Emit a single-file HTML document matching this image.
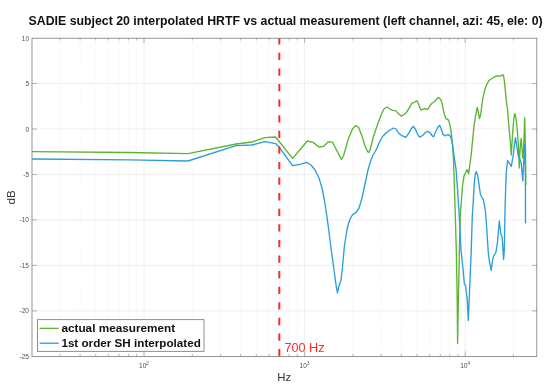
<!DOCTYPE html><html><head><meta charset="utf-8"><title>plot</title><style>html,body{margin:0;padding:0;background:#fff}svg{display:block}text{font-family:"Liberation Sans",Arial,Helvetica,sans-serif}</style></head><body>
<svg width="550" height="386" viewBox="0 0 550 386">
<rect width="550" height="386" fill="#fff"/>
<line x1="60.0" y1="38.0" x2="60.0" y2="356.4" stroke="#e6e6e6" stroke-width="0.6" stroke-dasharray="1 1.5"/>
<line x1="80.1" y1="38.0" x2="80.1" y2="356.4" stroke="#e6e6e6" stroke-width="0.6" stroke-dasharray="1 1.5"/>
<line x1="95.7" y1="38.0" x2="95.7" y2="356.4" stroke="#e6e6e6" stroke-width="0.6" stroke-dasharray="1 1.5"/>
<line x1="108.4" y1="38.0" x2="108.4" y2="356.4" stroke="#e6e6e6" stroke-width="0.6" stroke-dasharray="1 1.5"/>
<line x1="119.1" y1="38.0" x2="119.1" y2="356.4" stroke="#e6e6e6" stroke-width="0.6" stroke-dasharray="1 1.5"/>
<line x1="128.4" y1="38.0" x2="128.4" y2="356.4" stroke="#e6e6e6" stroke-width="0.6" stroke-dasharray="1 1.5"/>
<line x1="136.7" y1="38.0" x2="136.7" y2="356.4" stroke="#e6e6e6" stroke-width="0.6" stroke-dasharray="1 1.5"/>
<line x1="192.3" y1="38.0" x2="192.3" y2="356.4" stroke="#e6e6e6" stroke-width="0.6" stroke-dasharray="1 1.5"/>
<line x1="220.6" y1="38.0" x2="220.6" y2="356.4" stroke="#e6e6e6" stroke-width="0.6" stroke-dasharray="1 1.5"/>
<line x1="240.7" y1="38.0" x2="240.7" y2="356.4" stroke="#e6e6e6" stroke-width="0.6" stroke-dasharray="1 1.5"/>
<line x1="256.3" y1="38.0" x2="256.3" y2="356.4" stroke="#e6e6e6" stroke-width="0.6" stroke-dasharray="1 1.5"/>
<line x1="269.0" y1="38.0" x2="269.0" y2="356.4" stroke="#e6e6e6" stroke-width="0.6" stroke-dasharray="1 1.5"/>
<line x1="279.7" y1="38.0" x2="279.7" y2="356.4" stroke="#e6e6e6" stroke-width="0.6" stroke-dasharray="1 1.5"/>
<line x1="289.0" y1="38.0" x2="289.0" y2="356.4" stroke="#e6e6e6" stroke-width="0.6" stroke-dasharray="1 1.5"/>
<line x1="297.3" y1="38.0" x2="297.3" y2="356.4" stroke="#e6e6e6" stroke-width="0.6" stroke-dasharray="1 1.5"/>
<line x1="352.9" y1="38.0" x2="352.9" y2="356.4" stroke="#e6e6e6" stroke-width="0.6" stroke-dasharray="1 1.5"/>
<line x1="381.2" y1="38.0" x2="381.2" y2="356.4" stroke="#e6e6e6" stroke-width="0.6" stroke-dasharray="1 1.5"/>
<line x1="401.3" y1="38.0" x2="401.3" y2="356.4" stroke="#e6e6e6" stroke-width="0.6" stroke-dasharray="1 1.5"/>
<line x1="416.9" y1="38.0" x2="416.9" y2="356.4" stroke="#e6e6e6" stroke-width="0.6" stroke-dasharray="1 1.5"/>
<line x1="429.6" y1="38.0" x2="429.6" y2="356.4" stroke="#e6e6e6" stroke-width="0.6" stroke-dasharray="1 1.5"/>
<line x1="440.3" y1="38.0" x2="440.3" y2="356.4" stroke="#e6e6e6" stroke-width="0.6" stroke-dasharray="1 1.5"/>
<line x1="449.6" y1="38.0" x2="449.6" y2="356.4" stroke="#e6e6e6" stroke-width="0.6" stroke-dasharray="1 1.5"/>
<line x1="457.9" y1="38.0" x2="457.9" y2="356.4" stroke="#e6e6e6" stroke-width="0.6" stroke-dasharray="1 1.5"/>
<line x1="513.5" y1="38.0" x2="513.5" y2="356.4" stroke="#e6e6e6" stroke-width="0.6" stroke-dasharray="1 1.5"/>
<line x1="144.0" y1="38.0" x2="144.0" y2="356.4" stroke="#ebebeb" stroke-width="0.8"/>
<line x1="304.6" y1="38.0" x2="304.6" y2="356.4" stroke="#ebebeb" stroke-width="0.8"/>
<line x1="465.2" y1="38.0" x2="465.2" y2="356.4" stroke="#ebebeb" stroke-width="0.8"/>
<line x1="32.0" y1="83.5" x2="537.0" y2="83.5" stroke="#ebebeb" stroke-width="0.8"/>
<line x1="32.0" y1="129.0" x2="537.0" y2="129.0" stroke="#ebebeb" stroke-width="0.8"/>
<line x1="32.0" y1="174.5" x2="537.0" y2="174.5" stroke="#ebebeb" stroke-width="0.8"/>
<line x1="32.0" y1="219.9" x2="537.0" y2="219.9" stroke="#ebebeb" stroke-width="0.8"/>
<line x1="32.0" y1="265.4" x2="537.0" y2="265.4" stroke="#ebebeb" stroke-width="0.8"/>
<line x1="32.0" y1="310.9" x2="537.0" y2="310.9" stroke="#ebebeb" stroke-width="0.8"/>
<g fill="none" stroke-linejoin="round" stroke-linecap="butt" stroke-width="1.35">
<polyline stroke="#5bb531" points="32.0,151.6 130.0,152.5 188.0,153.6 236.0,144.0 252.0,142.0 265.0,137.6 275.6,137.0 292.6,158.4 307.3,141.0 313.0,142.4 319.0,147.0 323.6,146.4 328.2,141.8 332.6,142.2 336.0,149.0 341.4,159.4 343.5,156.0 348.0,140.0 352.4,129.0 355.6,125.6 358.4,127.0 362.0,136.0 365.0,146.0 367.6,151.6 369.0,152.4 370.4,149.0 373.0,138.0 377.0,126.0 381.0,115.0 384.0,109.0 387.0,107.0 390.0,109.0 392.4,110.4 395.6,110.6 398.4,113.6 401.4,116.2 404.0,114.5 406.5,112.4 409.5,107.3 411.9,103.3 414.5,102.2 416.7,100.7 418.2,102.9 419.6,107.3 421.1,110.2 423.3,109.0 425.5,108.7 427.6,109.5 429.8,105.8 432.0,103.3 434.9,101.5 437.1,98.5 438.5,97.4 440.7,99.3 442.2,103.6 443.4,110.0 444.4,114.4 445.8,118.7 448.0,119.5 449.5,123.1 450.9,130.4 452.4,142.0 453.5,160.0 455.0,205.0 456.3,250.0 457.2,299.0 457.6,343.4 458.0,320.0 458.6,290.0 459.4,252.0 460.2,216.0 461.2,203.0 462.5,186.0 464.0,176.0 465.5,173.0 467.2,169.5 468.7,173.8 469.6,166.0 470.5,160.0 471.3,153.6 472.7,139.0 474.2,124.5 475.6,115.8 477.2,107.4 478.3,112.7 479.5,118.5 480.8,114.0 482.1,103.5 483.4,95.6 485.3,88.0 487.2,83.5 489.1,80.4 491.6,78.8 494.2,77.2 496.7,75.9 499.9,76.2 501.8,75.5 502.8,74.6 503.7,76.5 504.6,82.9 505.6,93.1 506.5,102.0 507.5,108.9 508.8,125.5 510.1,139.5 511.3,155.0 512.6,133.0 513.9,117.8 514.9,113.6 516.1,119.1 517.3,130.0 518.4,145.0 519.2,168.0 520.0,150.0 521.2,138.4 522.7,158.0 523.6,150.0 524.7,117.7 525.5,150.0 525.8,185.0"/>
<polyline stroke="#2b9eda" points="32.0,159.0 130.0,159.8 188.0,161.0 236.0,145.6 252.0,145.0 265.0,141.6 275.6,143.6 279.0,147.0 292.6,165.6 300.0,164.4 306.6,162.4 311.0,165.0 315.0,170.0 319.0,178.0 322.0,188.0 324.0,198.0 326.0,210.0 327.4,220.0 329.0,232.0 331.0,248.0 334.0,270.0 335.6,282.0 337.4,293.0 339.0,286.0 341.0,280.0 342.4,268.0 344.4,246.0 347.0,230.0 348.4,224.0 350.0,219.0 352.4,215.0 356.0,212.4 359.0,208.0 362.0,198.0 365.0,184.0 368.0,170.0 371.0,160.0 373.0,155.0 375.0,152.0 377.0,148.0 380.0,141.0 383.0,136.0 386.0,133.0 390.0,130.0 393.6,128.0 396.0,129.0 399.0,133.6 402.0,135.6 405.8,137.3 408.7,133.3 411.6,128.2 413.4,126.3 415.3,128.9 417.5,134.0 419.6,137.2 422.5,135.5 425.5,132.5 427.6,131.4 429.8,132.5 432.0,135.5 433.5,136.9 435.6,131.8 437.8,127.5 439.6,125.3 441.5,129.6 442.9,134.0 444.8,135.9 446.5,135.0 448.7,134.7 450.6,136.6 452.1,142.0 453.5,152.2 455.0,162.4 456.0,168.7 457.5,189.0 458.9,209.5 461.0,250.0 462.9,267.8 464.4,284.4 465.5,285.0 466.3,292.0 467.2,299.0 468.3,320.5 469.2,299.0 470.2,275.5 471.2,252.0 472.3,216.0 473.2,202.0 474.2,184.7 475.3,173.8 476.4,171.6 477.8,176.0 479.0,184.7 480.4,194.2 481.9,197.5 483.3,199.3 484.2,204.0 485.4,211.0 486.3,222.0 488.4,254.0 489.6,262.7 491.2,270.4 492.2,262.7 493.5,256.4 496.0,252.0 497.4,243.0 499.3,221.0 500.9,234.3 502.1,236.8 502.8,247.0 503.6,259.5 504.3,250.0 505.0,212.0 505.6,190.0 506.3,172.0 507.6,160.5 509.5,163.5 511.3,166.3 512.4,160.0 513.3,155.0 514.4,145.0 515.5,137.6 516.8,146.0 518.3,156.0 521.1,162.3 522.8,181.0 524.0,155.0 524.7,144.5 525.4,175.0 525.5,223.5"/>
</g>
<line x1="279.3" y1="38.0" x2="279.3" y2="356.4" stroke="#ff2a2a" stroke-width="2" stroke-dasharray="7.3 8.29" stroke-dashoffset="0.79"/>
<text x="284.4" y="352" font-size="12.4" fill="#ff2a2a" textLength="40.2" lengthAdjust="spacingAndGlyphs">700 Hz</text>
<rect x="32.0" y="38.2" width="504.8" height="318.2" fill="none" stroke="#7a7a7a" stroke-width="0.8"/>
<line x1="144.0" y1="356.4" x2="144.0" y2="351.4" stroke="#7a7a7a" stroke-width="0.55"/>
<line x1="144.0" y1="38.0" x2="144.0" y2="43.0" stroke="#7a7a7a" stroke-width="0.55"/>
<line x1="304.6" y1="356.4" x2="304.6" y2="351.4" stroke="#7a7a7a" stroke-width="0.55"/>
<line x1="304.6" y1="38.0" x2="304.6" y2="43.0" stroke="#7a7a7a" stroke-width="0.55"/>
<line x1="465.2" y1="356.4" x2="465.2" y2="351.4" stroke="#7a7a7a" stroke-width="0.55"/>
<line x1="465.2" y1="38.0" x2="465.2" y2="43.0" stroke="#7a7a7a" stroke-width="0.55"/>
<line x1="60.0" y1="356.4" x2="60.0" y2="353.9" stroke="#7a7a7a" stroke-width="0.5"/>
<line x1="60.0" y1="38.0" x2="60.0" y2="40.5" stroke="#7a7a7a" stroke-width="0.5"/>
<line x1="80.1" y1="356.4" x2="80.1" y2="353.9" stroke="#7a7a7a" stroke-width="0.5"/>
<line x1="80.1" y1="38.0" x2="80.1" y2="40.5" stroke="#7a7a7a" stroke-width="0.5"/>
<line x1="95.7" y1="356.4" x2="95.7" y2="353.9" stroke="#7a7a7a" stroke-width="0.5"/>
<line x1="95.7" y1="38.0" x2="95.7" y2="40.5" stroke="#7a7a7a" stroke-width="0.5"/>
<line x1="108.4" y1="356.4" x2="108.4" y2="353.9" stroke="#7a7a7a" stroke-width="0.5"/>
<line x1="108.4" y1="38.0" x2="108.4" y2="40.5" stroke="#7a7a7a" stroke-width="0.5"/>
<line x1="119.1" y1="356.4" x2="119.1" y2="353.9" stroke="#7a7a7a" stroke-width="0.5"/>
<line x1="119.1" y1="38.0" x2="119.1" y2="40.5" stroke="#7a7a7a" stroke-width="0.5"/>
<line x1="128.4" y1="356.4" x2="128.4" y2="353.9" stroke="#7a7a7a" stroke-width="0.5"/>
<line x1="128.4" y1="38.0" x2="128.4" y2="40.5" stroke="#7a7a7a" stroke-width="0.5"/>
<line x1="136.7" y1="356.4" x2="136.7" y2="353.9" stroke="#7a7a7a" stroke-width="0.5"/>
<line x1="136.7" y1="38.0" x2="136.7" y2="40.5" stroke="#7a7a7a" stroke-width="0.5"/>
<line x1="192.3" y1="356.4" x2="192.3" y2="353.9" stroke="#7a7a7a" stroke-width="0.5"/>
<line x1="192.3" y1="38.0" x2="192.3" y2="40.5" stroke="#7a7a7a" stroke-width="0.5"/>
<line x1="220.6" y1="356.4" x2="220.6" y2="353.9" stroke="#7a7a7a" stroke-width="0.5"/>
<line x1="220.6" y1="38.0" x2="220.6" y2="40.5" stroke="#7a7a7a" stroke-width="0.5"/>
<line x1="240.7" y1="356.4" x2="240.7" y2="353.9" stroke="#7a7a7a" stroke-width="0.5"/>
<line x1="240.7" y1="38.0" x2="240.7" y2="40.5" stroke="#7a7a7a" stroke-width="0.5"/>
<line x1="256.3" y1="356.4" x2="256.3" y2="353.9" stroke="#7a7a7a" stroke-width="0.5"/>
<line x1="256.3" y1="38.0" x2="256.3" y2="40.5" stroke="#7a7a7a" stroke-width="0.5"/>
<line x1="269.0" y1="356.4" x2="269.0" y2="353.9" stroke="#7a7a7a" stroke-width="0.5"/>
<line x1="269.0" y1="38.0" x2="269.0" y2="40.5" stroke="#7a7a7a" stroke-width="0.5"/>
<line x1="279.7" y1="356.4" x2="279.7" y2="353.9" stroke="#7a7a7a" stroke-width="0.5"/>
<line x1="279.7" y1="38.0" x2="279.7" y2="40.5" stroke="#7a7a7a" stroke-width="0.5"/>
<line x1="289.0" y1="356.4" x2="289.0" y2="353.9" stroke="#7a7a7a" stroke-width="0.5"/>
<line x1="289.0" y1="38.0" x2="289.0" y2="40.5" stroke="#7a7a7a" stroke-width="0.5"/>
<line x1="297.3" y1="356.4" x2="297.3" y2="353.9" stroke="#7a7a7a" stroke-width="0.5"/>
<line x1="297.3" y1="38.0" x2="297.3" y2="40.5" stroke="#7a7a7a" stroke-width="0.5"/>
<line x1="352.9" y1="356.4" x2="352.9" y2="353.9" stroke="#7a7a7a" stroke-width="0.5"/>
<line x1="352.9" y1="38.0" x2="352.9" y2="40.5" stroke="#7a7a7a" stroke-width="0.5"/>
<line x1="381.2" y1="356.4" x2="381.2" y2="353.9" stroke="#7a7a7a" stroke-width="0.5"/>
<line x1="381.2" y1="38.0" x2="381.2" y2="40.5" stroke="#7a7a7a" stroke-width="0.5"/>
<line x1="401.3" y1="356.4" x2="401.3" y2="353.9" stroke="#7a7a7a" stroke-width="0.5"/>
<line x1="401.3" y1="38.0" x2="401.3" y2="40.5" stroke="#7a7a7a" stroke-width="0.5"/>
<line x1="416.9" y1="356.4" x2="416.9" y2="353.9" stroke="#7a7a7a" stroke-width="0.5"/>
<line x1="416.9" y1="38.0" x2="416.9" y2="40.5" stroke="#7a7a7a" stroke-width="0.5"/>
<line x1="429.6" y1="356.4" x2="429.6" y2="353.9" stroke="#7a7a7a" stroke-width="0.5"/>
<line x1="429.6" y1="38.0" x2="429.6" y2="40.5" stroke="#7a7a7a" stroke-width="0.5"/>
<line x1="440.3" y1="356.4" x2="440.3" y2="353.9" stroke="#7a7a7a" stroke-width="0.5"/>
<line x1="440.3" y1="38.0" x2="440.3" y2="40.5" stroke="#7a7a7a" stroke-width="0.5"/>
<line x1="449.6" y1="356.4" x2="449.6" y2="353.9" stroke="#7a7a7a" stroke-width="0.5"/>
<line x1="449.6" y1="38.0" x2="449.6" y2="40.5" stroke="#7a7a7a" stroke-width="0.5"/>
<line x1="457.9" y1="356.4" x2="457.9" y2="353.9" stroke="#7a7a7a" stroke-width="0.5"/>
<line x1="457.9" y1="38.0" x2="457.9" y2="40.5" stroke="#7a7a7a" stroke-width="0.5"/>
<line x1="513.5" y1="356.4" x2="513.5" y2="353.9" stroke="#7a7a7a" stroke-width="0.5"/>
<line x1="513.5" y1="38.0" x2="513.5" y2="40.5" stroke="#7a7a7a" stroke-width="0.5"/>
<text x="29" y="40.5" font-size="6.5" fill="#505050" text-anchor="end">10</text>
<line x1="32.0" y1="83.5" x2="37.0" y2="83.5" stroke="#7a7a7a" stroke-width="0.55"/>
<line x1="537.0" y1="83.5" x2="532.0" y2="83.5" stroke="#7a7a7a" stroke-width="0.55"/>
<text x="29" y="86.0" font-size="6.5" fill="#505050" text-anchor="end">5</text>
<line x1="32.0" y1="129.0" x2="37.0" y2="129.0" stroke="#7a7a7a" stroke-width="0.55"/>
<line x1="537.0" y1="129.0" x2="532.0" y2="129.0" stroke="#7a7a7a" stroke-width="0.55"/>
<text x="29" y="131.5" font-size="6.5" fill="#505050" text-anchor="end">0</text>
<line x1="32.0" y1="174.5" x2="37.0" y2="174.5" stroke="#7a7a7a" stroke-width="0.55"/>
<line x1="537.0" y1="174.5" x2="532.0" y2="174.5" stroke="#7a7a7a" stroke-width="0.55"/>
<text x="29" y="177.0" font-size="6.5" fill="#505050" text-anchor="end">-5</text>
<line x1="32.0" y1="219.9" x2="37.0" y2="219.9" stroke="#7a7a7a" stroke-width="0.55"/>
<line x1="537.0" y1="219.9" x2="532.0" y2="219.9" stroke="#7a7a7a" stroke-width="0.55"/>
<text x="29" y="222.4" font-size="6.5" fill="#505050" text-anchor="end">-10</text>
<line x1="32.0" y1="265.4" x2="37.0" y2="265.4" stroke="#7a7a7a" stroke-width="0.55"/>
<line x1="537.0" y1="265.4" x2="532.0" y2="265.4" stroke="#7a7a7a" stroke-width="0.55"/>
<text x="29" y="267.9" font-size="6.5" fill="#505050" text-anchor="end">-15</text>
<line x1="32.0" y1="310.9" x2="37.0" y2="310.9" stroke="#7a7a7a" stroke-width="0.55"/>
<line x1="537.0" y1="310.9" x2="532.0" y2="310.9" stroke="#7a7a7a" stroke-width="0.55"/>
<text x="29" y="313.4" font-size="6.5" fill="#505050" text-anchor="end">-20</text>
<text x="29" y="358.9" font-size="6.5" fill="#505050" text-anchor="end">-25</text>
<text x="139.0" y="367.6" font-size="6.6" fill="#505050">10<tspan dy="-3" font-size="4.6">2</tspan></text>
<text x="299.6" y="367.6" font-size="6.6" fill="#505050">10<tspan dy="-3" font-size="4.6">3</tspan></text>
<text x="460.2" y="367.6" font-size="6.6" fill="#505050">10<tspan dy="-3" font-size="4.6">4</tspan></text>
<text x="284.3" y="380.6" font-size="11.4" fill="#333" text-anchor="middle">Hz</text>
<text transform="translate(15.4,197.4) rotate(-90)" font-size="11.6" fill="#333" text-anchor="middle">dB</text>
<text x="285.6" y="24.6" font-size="12.3" font-weight="bold" fill="#111" text-anchor="middle" textLength="514" lengthAdjust="spacingAndGlyphs">SADIE subject 20 interpolated HRTF vs actual measurement (left channel, azi: 45, ele: 0)</text>
<rect x="37.4" y="319.7" width="166.6" height="31.6" fill="#fff" stroke="#6a6a6a" stroke-width="0.75"/>
<line x1="39.6" y1="328.4" x2="58.6" y2="328.4" stroke="#5bb531" stroke-width="1.35"/>
<line x1="39.6" y1="343.2" x2="58.6" y2="343.2" stroke="#2b9eda" stroke-width="1.35"/>
<text x="61.4" y="332.2" font-size="11.7" font-weight="bold" fill="#111" textLength="113.8" lengthAdjust="spacingAndGlyphs">actual measurement</text>
<text x="61.4" y="347.2" font-size="11.7" font-weight="bold" fill="#111" textLength="139.4" lengthAdjust="spacingAndGlyphs">1st order SH interpolated</text>
</svg></body></html>
